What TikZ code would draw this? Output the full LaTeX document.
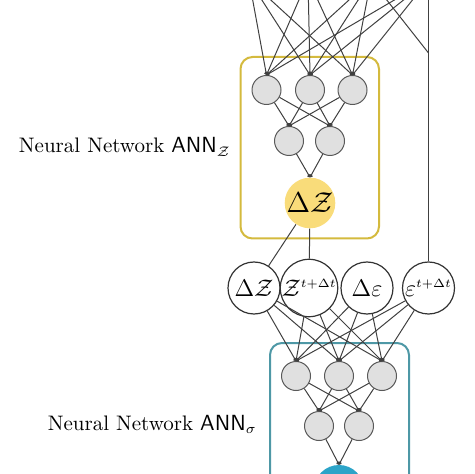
\documentclass[tikz,border=0pt]{standalone}
\usetikzlibrary{arrows.meta}
\definecolor{ygold}{RGB}{212,186,62}
\definecolor{yfill}{RGB}{249,220,122}
\definecolor{tealb}{RGB}{78,152,166}
\definecolor{bfill}{RGB}{44,164,200}
\begin{document}
\begin{tikzpicture}[x=0.5pt,y=-0.5pt,
  hid/.style={circle,draw=black!65,fill=black!12,line width=0.5pt,minimum size=14.5pt,inner sep=0pt},
  big/.style={circle,draw=black!80,fill=white,line width=0.6pt,minimum size=26pt,inner sep=0pt,font=\fontsize{13}{15}\selectfont},
  outy/.style={circle,fill=yfill,draw=none,minimum size=25pt,inner sep=0pt,font=\fontsize{14}{16}\selectfont},
  outb/.style={circle,fill=bfill,draw=none,minimum size=25pt,inner sep=0pt},
  conn/.style={draw=black!75,line width=0.5pt},
  tip/.style={conn,-{Circle[length=1.8pt]}},
  ybox/.style={draw=ygold,line width=1pt,rounded corners=6pt},
  bbox/.style={draw=tealb,line width=1pt,rounded corners=6pt},
  lab/.style={font=\fontsize{10.5}{12.5}\selectfont,inner sep=0pt}
]
\useasboundingbox (0,0) rectangle (474,474);
\clip (0,0) rectangle (474,474);

% boxes
\draw[ybox] (240.5,57) rectangle (379,238.5);
\draw[bbox] (270,343) rectangle (409,520);

% hidden input points above the frame
\coordinate (inA) at (249,-20);
\coordinate (inB) at (308,-21);
\coordinate (inC) at (371,-20);
\coordinate (inD) at (428.5,-20);
\coordinate (join) at (428.5,53);

% upper network
\node[hid] (a1) at (266.5,90) {};
\node[hid] (a2) at (310,90) {};
\node[hid] (a3) at (352.5,90) {};
\node[hid] (b1) at (289,141) {};
\node[hid] (b2) at (330,141) {};
\node[outy] (oz) at (310,203) {$\Delta\mathcal{Z}$};

% middle row
\node[big] (r1) at (254,288) {$\Delta\mathcal{Z}$};
\node[big] (r2) at (309,288) {$\mathcal{Z}^{\scriptscriptstyle t+\Delta t}$};
\node[big] (r3) at (367,288) {$\Delta\varepsilon$};
\node[big] (r4) at (428.5,288) {$\varepsilon^{\scriptscriptstyle t+\Delta t}$};

% lower network
\node[hid] (c1) at (296,376) {};
\node[hid] (c2) at (339,376) {};
\node[hid] (c3) at (382,376) {};
\node[hid] (d1) at (319,426) {};
\node[hid] (d2) at (359,426) {};
\node[outb] (os) at (339,490) {};

% labels
\node[lab,anchor=base east] (labz) at (231,153) {Neural Network $\mathsf{ANN}_{\mathcal{Z}}$};
\node[lab,anchor=base east] (labs) at (257,430) {Neural Network $\mathsf{ANN}_{\sigma}$};

% connections into upper network
\foreach \s in {inA,inB,inC,inD}
  \foreach \t in {a1,a2,a3}
    \draw[tip] (\s) -- (\t.north);
\draw[conn] (inD) -- (r4);
\draw[conn] (inC) -- (join);

\foreach \s in {a1,a2,a3}
  \foreach \t in {b1,b2}
    \draw[tip] (\s) -- (\t.north);
\foreach \s in {b1,b2}
  \draw[tip] (\s) -- (oz.north);

\draw[conn] (oz) -- (r1);
\draw[conn] (oz) -- (r2);

% connections into lower network
\foreach \s in {r1,r2,r3,r4}
  \foreach \t in {c1,c2,c3}
    \draw[tip] (\s) -- (\t.north);
\foreach \s in {c1,c2,c3}
  \foreach \t in {d1,d2}
    \draw[tip] (\s) -- (\t.north);
\foreach \s in {d1,d2}
  \draw[tip] (\s) -- (os.north);
\end{tikzpicture}
\end{document}
